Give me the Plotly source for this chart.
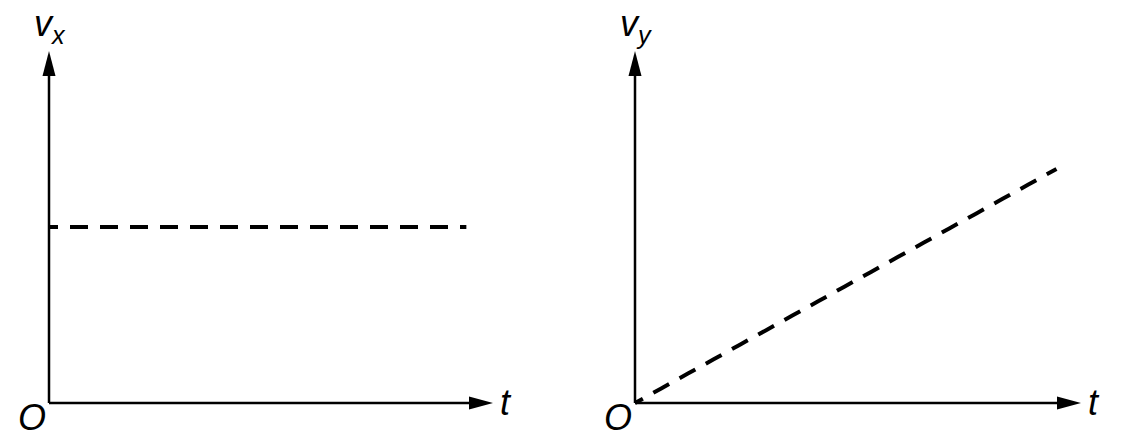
import plotly.graph_objects as go
from plotly.subplots import make_subplots

# values (t and v in arbitrary units, axes run 0..10)
t_vx = [0, 9.4]
vx = [5.0, 5.0]
t_vy = [0, 9.45]
vy = [0, 6.65]

v_labels = ['v<sub>x</sub>', 'v<sub>y</sub>']
origin_label = 'O'
time_label = 't'

# the page body keeps an 8px margin, so the figure is a bit smaller than the window
PAGE = 8
W, H = 1126 - 2 * PAGE, 441 - 2 * PAGE
T_MAX, V_MAX = 10, 10
X_RANGE = [-0.8, 10.7]
Y_RANGE = [-0.8, 11.0]

# window pixel columns of origin / arrow tip for each panel, and rows for the v axis
panel_px = [(49, 493), (635, 1081)]
y0_px, y1_px = 403, 51

def x_domain(p0, p1):
	s = (p1 - p0) / T_MAX
	lo = (p0 - PAGE + X_RANGE[0] * s) / W
	hi = (p0 - PAGE + X_RANGE[1] * s) / W
	return [max(lo, 0), min(hi, 1)]

def y_domain():
	s = (y0_px - y1_px) / V_MAX
	bottom = y0_px - PAGE - Y_RANGE[0] * s
	top = y0_px - PAGE - Y_RANGE[1] * s
	return [max((H - bottom) / H, 0), min((H - top) / H, 1)]

fig = make_subplots(rows=1, cols=2)

dash = '9px,12px,9px,0px'
fig.add_trace(go.Scatter(x=t_vx, y=vx, mode='lines', line=dict(color='black', width=4, dash=dash), showlegend=False, hoverinfo='skip'), 1, 1)
fig.add_trace(go.Scatter(x=t_vy, y=vy, mode='lines', line=dict(color='black', width=4, dash=dash), showlegend=False, hoverinfo='skip'), 1, 2)

font = dict(family='Liberation Sans, Arial', size=36, color='black', style='italic')

for i, (p0, p1) in enumerate(panel_px):
	xr = 'x' if i == 0 else 'x2'
	yr = 'y' if i == 0 else 'y2'
	fig.update_xaxes(range=X_RANGE, domain=x_domain(p0, p1), visible=False, row=1, col=i + 1)
	fig.update_yaxes(range=Y_RANGE, domain=y_domain(), visible=False, row=1, col=i + 1)

	# axes with arrow heads
	fig.add_shape(type='line', xref=xr, yref=yr, x0=0, y0=0, x1=T_MAX - 0.3, y1=0, line=dict(color='black', width=2.5))
	fig.add_shape(type='line', xref=xr, yref=yr, x0=0, y0=0, x1=0, y1=V_MAX - 0.3, line=dict(color='black', width=2.5))
	fig.add_shape(type='path', xref=xr, yref=yr, xsizemode='pixel', ysizemode='pixel', xanchor=T_MAX, yanchor=0,
		path='M0,0 L-24,6.5 L-24,-6.5 Z', fillcolor='black', line=dict(width=0))
	fig.add_shape(type='path', xref=xr, yref=yr, xsizemode='pixel', ysizemode='pixel', xanchor=0, yanchor=V_MAX,
		path='M0,0 L-6.5,-25 L6.5,-25 Z', fillcolor='black', line=dict(width=0))

	fig.add_annotation(x=-0.38, y=-0.4, xref=xr, yref=yr, text=origin_label, showarrow=False, font=font, xanchor='center', yanchor='middle')
	fig.add_annotation(x=10.3, y=0, xref=xr, yref=yr, text=time_label, showarrow=False, font=font, xanchor='center', yanchor='middle')
	fig.add_annotation(x=0.02, y=10.7, xref=xr, yref=yr, text=v_labels[i], showarrow=False, font=font, xanchor='center', yanchor='middle')

fig.update_layout(width=W, height=H, margin=dict(l=0, r=0, t=0, b=0), plot_bgcolor='white', paper_bgcolor='white', hovermode=False)

fig.write_html("out.html")
